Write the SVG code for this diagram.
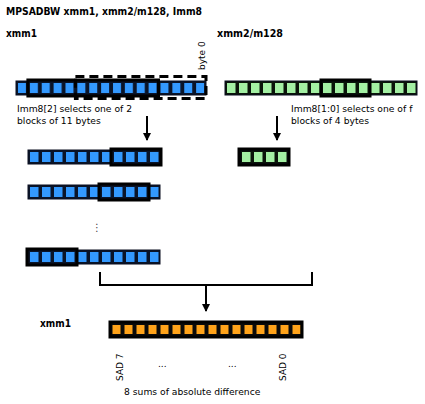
<svg xmlns="http://www.w3.org/2000/svg" width="425" height="404" viewBox="0 0 425 404">
<style>
text{font-family:"DejaVu Sans","Verdana",sans-serif;fill:#000}
.t{font-size:10.5px;font-weight:bold}
.lb{font-size:10px;font-weight:bold}
.s{font-size:9.2px}
.r{font-size:9px}
.hl{fill:none;stroke:#000;stroke-width:3}
.dash{fill:none;stroke:#000;stroke-width:3;stroke-dasharray:9 5}
.row{stroke:#0a0f20;stroke-width:1}
.con{fill:none;stroke:#000;stroke-width:2}
</style>
<defs>
<pattern id="pb" width="11.875" height="14" patternUnits="userSpaceOnUse"><rect width="11.875" height="14" fill="#0a1428"/><rect x="2" y="2" width="8" height="10" fill="#3399ff"/></pattern>
<pattern id="pb12" width="12" height="14" patternUnits="userSpaceOnUse"><rect width="12" height="14" fill="#0a1428"/><rect x="2" y="2" width="8.5" height="10" fill="#3399ff"/></pattern>
<pattern id="pg" width="12" height="14" patternUnits="userSpaceOnUse"><rect width="12" height="14" fill="#0a140a"/><rect x="2" y="2" width="8.5" height="10" fill="#a3f0a3"/></pattern>
<pattern id="po" width="12" height="15" patternUnits="userSpaceOnUse"><rect width="12" height="15" fill="#0a0a0a"/><rect x="2.5" y="3" width="8" height="9" fill="#ffa31a"/></pattern>
<marker id="ah" markerWidth="8" markerHeight="8" refX="7" refY="4" orient="auto" markerUnits="userSpaceOnUse"><path d="M0,0 L8,4 L0,8 Z" fill="#000"/></marker>
</defs>

<g id="title"><text class="t" x="6" y="15" textLength="196" lengthAdjust="spacingAndGlyphs">MPSADBW xmm1, xmm2/m128, Imm8</text></g>

<g id="xmm1-src">
<text class="lb" x="6" y="37" textLength="31" lengthAdjust="spacingAndGlyphs">xmm1</text>
<g transform="translate(16,81)"><rect class="row" width="190" height="14" fill="url(#pb)"/></g>
<rect class="hl" x="27.9" y="80" width="130.6" height="16"/>
<rect class="dash" x="75.4" y="76.5" width="130.6" height="22"/>
<text class="r" transform="translate(205,70) rotate(-90)">byte 0</text>
<text class="s" x="17" y="112">Imm8[2] selects one of 2</text>
<text class="s" x="17" y="124">blocks of 11 bytes</text>
</g>

<g id="xmm2-src">
<text class="lb" x="217" y="37" textLength="66" lengthAdjust="spacingAndGlyphs">xmm2/m128</text>
<g transform="translate(225,81)"><rect class="row" width="192" height="14" fill="url(#pg)"/></g>
<rect class="hl" x="321" y="80" width="49" height="16"/>
<text class="s" x="291" y="112">Imm8[1:0] selects one of f</text>
<text class="s" x="291" y="124">blocks of 4 bytes</text>
</g>

<g id="block-1">
<g transform="translate(28,150)"><rect class="row" width="132" height="14" fill="url(#pb12)"/></g>
<rect class="hl" x="111" y="149" width="50" height="16"/>
</g>
<g id="block-2">
<g transform="translate(28,185)"><rect class="row" width="132" height="14" fill="url(#pb12)"/></g>
<rect class="hl" x="99" y="184" width="50" height="16"/>
</g>
<g id="ellipsis"><text x="97" y="231" font-size="10" text-anchor="middle" style="fill:#444">⋮</text></g>
<g id="block-3">
<g transform="translate(28,250)"><rect class="row" width="132" height="14" fill="url(#pb12)"/></g>
<rect class="hl" x="27" y="249" width="50" height="16"/>
</g>

<g id="xmm2-block">
<g transform="translate(240,150)"><rect class="row" width="48" height="14" fill="url(#pg)"/></g>
<rect class="hl" x="239" y="149" width="50" height="16"/>
</g>

<g id="xmm1-dst">
<text class="lb" x="40" y="327" textLength="31" lengthAdjust="spacingAndGlyphs">xmm1</text>
<g transform="translate(110,322)"><rect class="row" width="192" height="15" fill="url(#po)"/></g>
<rect class="hl" x="110" y="322" width="192" height="15"/>
<text class="r" transform="translate(123,381) rotate(-90)">SAD 7</text>
<text class="r" x="158" y="367">...</text>
<text class="r" x="228" y="367">...</text>
<text class="r" transform="translate(286,381) rotate(-90)">SAD 0</text>
<text class="s" x="124" y="395">8 sums of absolute difference</text>
</g>

<g id="connectors">
<line class="con" x1="147" y1="116" x2="147" y2="140" marker-end="url(#ah)"/>
<line class="con" x1="277" y1="116" x2="277" y2="140" marker-end="url(#ah)"/>
<path class="con" d="M100,272 V285 H312 V272"/>
<line class="con" x1="206" y1="285" x2="206" y2="311" marker-end="url(#ah)"/>
</g>
</svg>
